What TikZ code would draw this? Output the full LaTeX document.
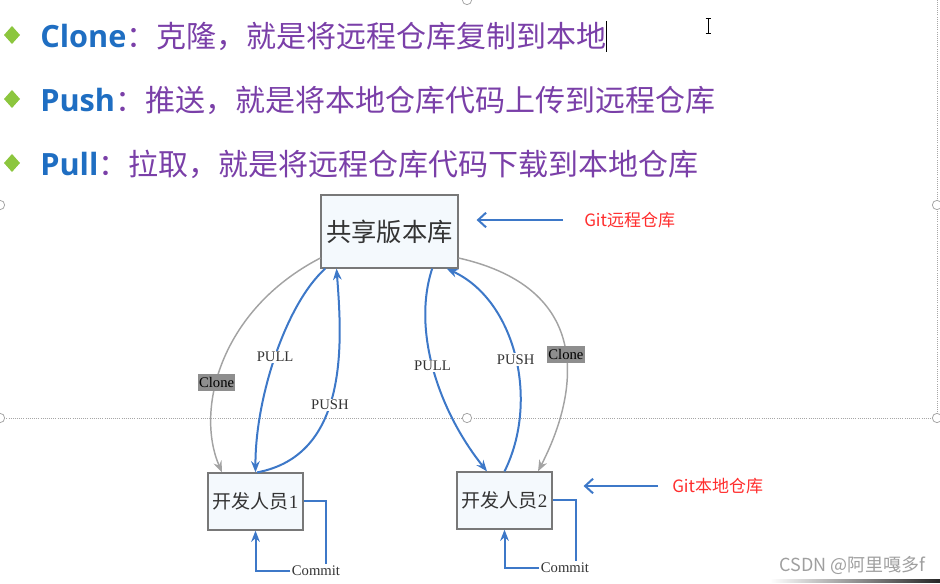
\documentclass[tikz,border=0pt]{standalone}
\usepackage{fontspec}
\setmainfont{Liberation Serif}
\newfontfamily\cjk{Noto Sans CJK SC}
\newfontfamily\headfont{Open Sans}
\usetikzlibrary{arrows.meta}

\definecolor{headblue}{HTML}{1F6EC2}
\definecolor{headpurple}{HTML}{7A3FA8}
\definecolor{bulletgreen}{HTML}{8CC63E}
\definecolor{linkblue}{HTML}{3D78C8}
\definecolor{linkgray}{HTML}{A3A3A3}
\definecolor{notered}{HTML}{FF2D2D}
\definecolor{boxfill}{HTML}{F4F9FD}
\definecolor{boxgray}{HTML}{787878}
\definecolor{tagfill}{HTML}{8E8E8E}
\definecolor{textdark}{HTML}{333333}

\newcommand{\gitword}[1]{{\fontsize{23}{27}\selectfont\headfont\bfseries\color{headblue}#1}}

\begin{document}
\begin{tikzpicture}[
        x=0.75pt, y=-0.75pt,
        headline/.style={anchor=west, inner sep=0pt, text=headpurple,
            font=\fontsize{22.5}{27}\selectfont\cjk},
        repobox/.style={draw=boxgray, fill=boxfill, line width=0.9pt, inner sep=0pt,
            minimum width=102.75pt, minimum height=54.75pt, text=textdark,
            font=\fontsize{19}{21}\selectfont\cjk},
        devbox/.style={repobox, minimum width=71.25pt, minimum height=42.75pt,
            font=\fontsize{14.25}{16}\selectfont\cjk},
        pushpull/.style={draw=linkblue, line width=1.5pt,
            -{Stealth[length=8.5pt,width=6.5pt]}},
        clonelink/.style={draw=linkgray, line width=1.1pt,
            -{Stealth[length=8.5pt,width=6.5pt]}},
        commitline/.style={draw=linkblue, line width=1.5pt},
        noteline/.style={draw=linkblue, line width=1.5pt,
            -{Straight Barb[length=6pt,width=11pt]}},
        linklabel/.style={fill=white, inner sep=1pt, text=textdark,
            font=\fontsize{11}{12}\selectfont},
        clonetag/.style={fill=tagfill, inner xsep=1pt, inner ysep=2.5pt, text=black,
            font=\fontsize{11}{12}\selectfont},
        commitlabel/.style={inner sep=1pt, text=textdark,
            font=\fontsize{11}{12}\selectfont},
        gitnote/.style={anchor=west, inner sep=0pt, text=notered,
            font=\fontsize{12.75}{14}\selectfont\cjk},
        selframe/.style={draw=gray!70, densely dotted, line width=0.6pt},
        handle/.style={draw=gray!70, fill=white, line width=0.6pt},
    ]
  \useasboundingbox (0,0) rectangle (940,584);

  % slide selection frame
  \draw[selframe] (0,418) -- (937,418) -- (937,0);
  \foreach \p in {(0,205),(0,418),(467,418),(937,205),(937,418),(467,0)}
    \draw[handle] \p circle[radius=3.5pt];

  % bullet lines
  \foreach \y in {35,99,163}
    \fill[bulletgreen] (12,\y-9) -- (20,\y) -- (12,\y+9) -- (4,\y) -- cycle;
  \node[headline] (clone) at (40,36) {\gitword{Clone}：克隆，就是将远程仓库复制到本地};
  \node[headline] (push) at (40,100) {\gitword{Push}：推送，就是将本地仓库代码上传到远程仓库};
  \node[headline] (pull) at (40,164) {\gitword{Pull}：拉取，就是将远程仓库代码下载到本地仓库};
  \draw[line width=0.6pt] (606,21) -- (606,52);
  \draw[line width=0.6pt] (708,18) -- (708,33) (705.5,18) -- (710.5,18) (705.5,33) -- (710.5,33);

  % repositories
  \node[repobox] (repo) at (389.5,231.5) {共享版本库};
  \node[devbox] (dev1) at (255.5,501.5) {开发人员{\rmfamily 1}};
  \node[devbox] (dev2) at (504.5,500.5) {开发人员{\rmfamily 2}};

  % clone / pull / push
  \draw[clonelink] (repo.201) .. controls (220,310) and (195,410) .. (dev1.139)
    node[clonetag, pos=0.59] {Clone};
  \draw[pushpull] (repo.210) .. controls (285,305) and (255,400) .. (dev1.north)
    node[linklabel, pos=0.5] {PULL};
  \draw[pushpull] (dev1.87) .. controls (350,455) and (342,340) .. (repo.215)
    node[linklabel, pos=0.44] {PUSH};
  \draw[pushpull] (repo.319) .. controls (412,330) and (438,410) .. (dev2.121)
    node[linklabel, pos=0.48] {PULL};
  \draw[pushpull] (dev2.north) .. controls (540,400) and (515,300) .. (repo.327)
    node[linklabel, pos=0.48] {PUSH};
  \draw[clonelink] (repo.339) .. controls (600,290) and (575,400) .. (dev2.41)
    node[clonetag, pos=0.52] {Clone};

  % commit loops
  \node[commitlabel] (commit1) at (316,571) {Commit};
  \draw[commitline] (dev1.east) -| ([xshift=7.5pt]commit1.north);
  \draw[commitline, -{Stealth[length=8.5pt,width=6.5pt]}] (commit1.west) -| (dev1.south);
  \node[commitlabel] (commit2) at (565,568) {Commit};
  \draw[commitline] (dev2.east) -| ([xshift=8.25pt]commit2.north);
  \draw[commitline, -{Stealth[length=8.5pt,width=6.5pt]}] (commit2.west) -| (dev2.south);

  % notes
  \node[gitnote] (remote) at (584,220) {Git远程仓库};
  \draw[noteline, shorten <=15.75pt, shorten >=13.5pt] (remote.west) -- (remote.west -| repo.east);
  \node[gitnote] (local) at (672,486) {Git本地仓库};
  \draw[noteline, shorten <=10.5pt, shorten >=23.25pt] (local.west) -- (local.west -| dev2.east);

  % watermark
  \node[anchor=east, inner sep=0pt, text=gray!75, font=\fontsize{13.5}{15}\selectfont\cjk]
    (mark) at (926,565) {CSDN @阿里嘎多f};
  \shade[left color=white, right color=black!85] (770,580) rectangle (940,583);
\end{tikzpicture}
\end{document}
